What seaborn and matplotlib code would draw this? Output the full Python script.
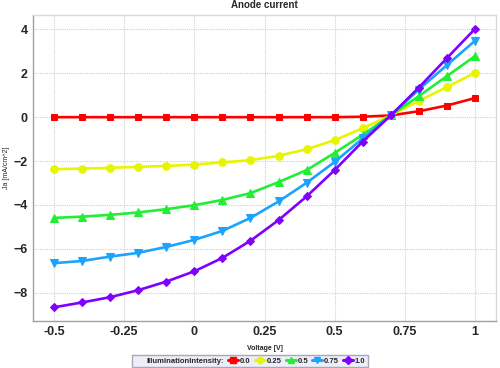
import matplotlib
matplotlib.use("Agg")
import matplotlib.pyplot as plt
from matplotlib.lines import Line2D
import seaborn as sns
import pandas as pd
import numpy as np

voltage = [-0.5, -0.4, -0.3, -0.2, -0.1, 0.0, 0.1, 0.2, 0.3, 0.4, 0.5, 0.6, 0.7, 0.8, 0.9, 1.0]
i_00 = [0.0, 0.0, 0.0, 0.0, 0.0, 0.0, 0.0, 0.0, 0.0, 0.0, 0.0, 0.02, 0.08, 0.27, 0.53, 0.87]
i_025 = [-2.37, -2.34, -2.31, -2.26, -2.22, -2.16, -2.06, -1.96, -1.76, -1.46, -1.05, -0.50, 0.08, 0.74, 1.37, 2.02]
i_05 = [-4.59, -4.53, -4.45, -4.34, -4.19, -4.01, -3.77, -3.46, -2.96, -2.41, -1.63, -0.80, 0.08, 0.96, 1.87, 2.78]
i_075 = [-6.65, -6.55, -6.35, -6.18, -5.91, -5.59, -5.18, -4.59, -3.84, -2.99, -2.04, -0.97, 0.08, 1.26, 2.37, 3.48]
i_10 = [-8.66, -8.44, -8.20, -7.88, -7.49, -7.02, -6.41, -5.63, -4.69, -3.61, -2.41, -1.11, 0.08, 1.35, 2.69, 4.02]
intensities = ["0.0", "0.25", "0.5", "0.75", "1.0"]
series = [i_00, i_025, i_05, i_075, i_10]
x_ticks = [-0.5, -0.25, 0, 0.25, 0.5, 0.75, 1]
x_tick_labels = ["-0.5", "-0.25", "0", "0.25", "0.5", "0.75", "1"]
y_ticks = [-8, -6, -4, -2, 0, 2, 4]

colors = ["#FF0000", "#E8F500", "#22EE33", "#1AA3FF", "#7F00FF"]
markers = ["s", "o", "^", "v", "D"]
msizes = [5, 5.5, 5.5, 5.5, 4]

rows = []
for lab, vals in zip(intensities, series):
    for v, j in zip(voltage, vals):
        rows.append({"Voltage": v, "Ja": j, "Intensity": lab})
df = pd.DataFrame(rows)

sns.set_theme(style="whitegrid")
plt.rcParams['font.family'] = ['Liberation Sans', 'DejaVu Sans']

fig = plt.figure(figsize=(5, 3.68), dpi=100)
ax = fig.add_axes([0.066, 0.128, 0.926, 0.831])

for lab, col, mk, ms in zip(intensities, colors, markers, msizes):
    sub = df[df["Intensity"] == lab]
    sns.lineplot(data=sub, x="Voltage", y="Ja", ax=ax, color=col, marker=mk,
                 markersize=ms, markeredgecolor=col, linewidth=1.9, legend=False)

ax.set_xlim(-0.575, 1.075)
ax.set_ylim(-9.28, 4.65)
ax.set_xticks(x_ticks)
ax.set_xticklabels(x_tick_labels)
ax.set_yticks(y_ticks)
ax.tick_params(axis='both', labelsize=9, length=0, pad=4)
for t in ax.get_xticklabels() + ax.get_yticklabels():
    t.set_fontweight('bold')
ax.grid(True, color="#D0D0D0", linestyle=(0, (1, 1)), linewidth=0.8)
ax.set_facecolor("white")
for s in ax.spines.values():
    s.set_color("#D8D8D8")
    s.set_linewidth(1)
ax.spines['left'].set_color("#A0A0A0")
ax.spines['bottom'].set_color("#A0A0A0")

ax.set_title("Anode current", fontsize=7, fontweight='bold', pad=5)
ax.set_xlabel("Voltage [V]", fontsize=5, fontweight='bold', labelpad=5)
ax.set_ylabel("Ja [mA/cm^2]", fontsize=5)
ax.yaxis.set_label_coords(-0.050, 0.5)

handles = [Line2D([], [], linestyle='none')]
labels = ["IlluminationIntensity:"]
for lab, col, mk in zip(intensities, colors, markers):
    handles.append(Line2D([], [], color=col, marker=mk, markersize=4.5, linewidth=2.2, markeredgecolor=col))
    labels.append(lab)
leg = fig.legend(handles, labels, loc='lower center', bbox_to_anchor=(0.5, 0.0), ncol=6,
                 prop={'weight': 'bold', 'size': 5.5}, frameon=True, fancybox=False,
                 handlelength=1.3, handletextpad=0.2, columnspacing=0.6, borderpad=0.35,
                 borderaxespad=0.1)
leg.get_frame().set_facecolor("#EEEEFA")
leg.get_frame().set_edgecolor("#A8A8B8")
leg.get_frame().set_alpha(1)

fig.savefig("out.png", dpi=100)
